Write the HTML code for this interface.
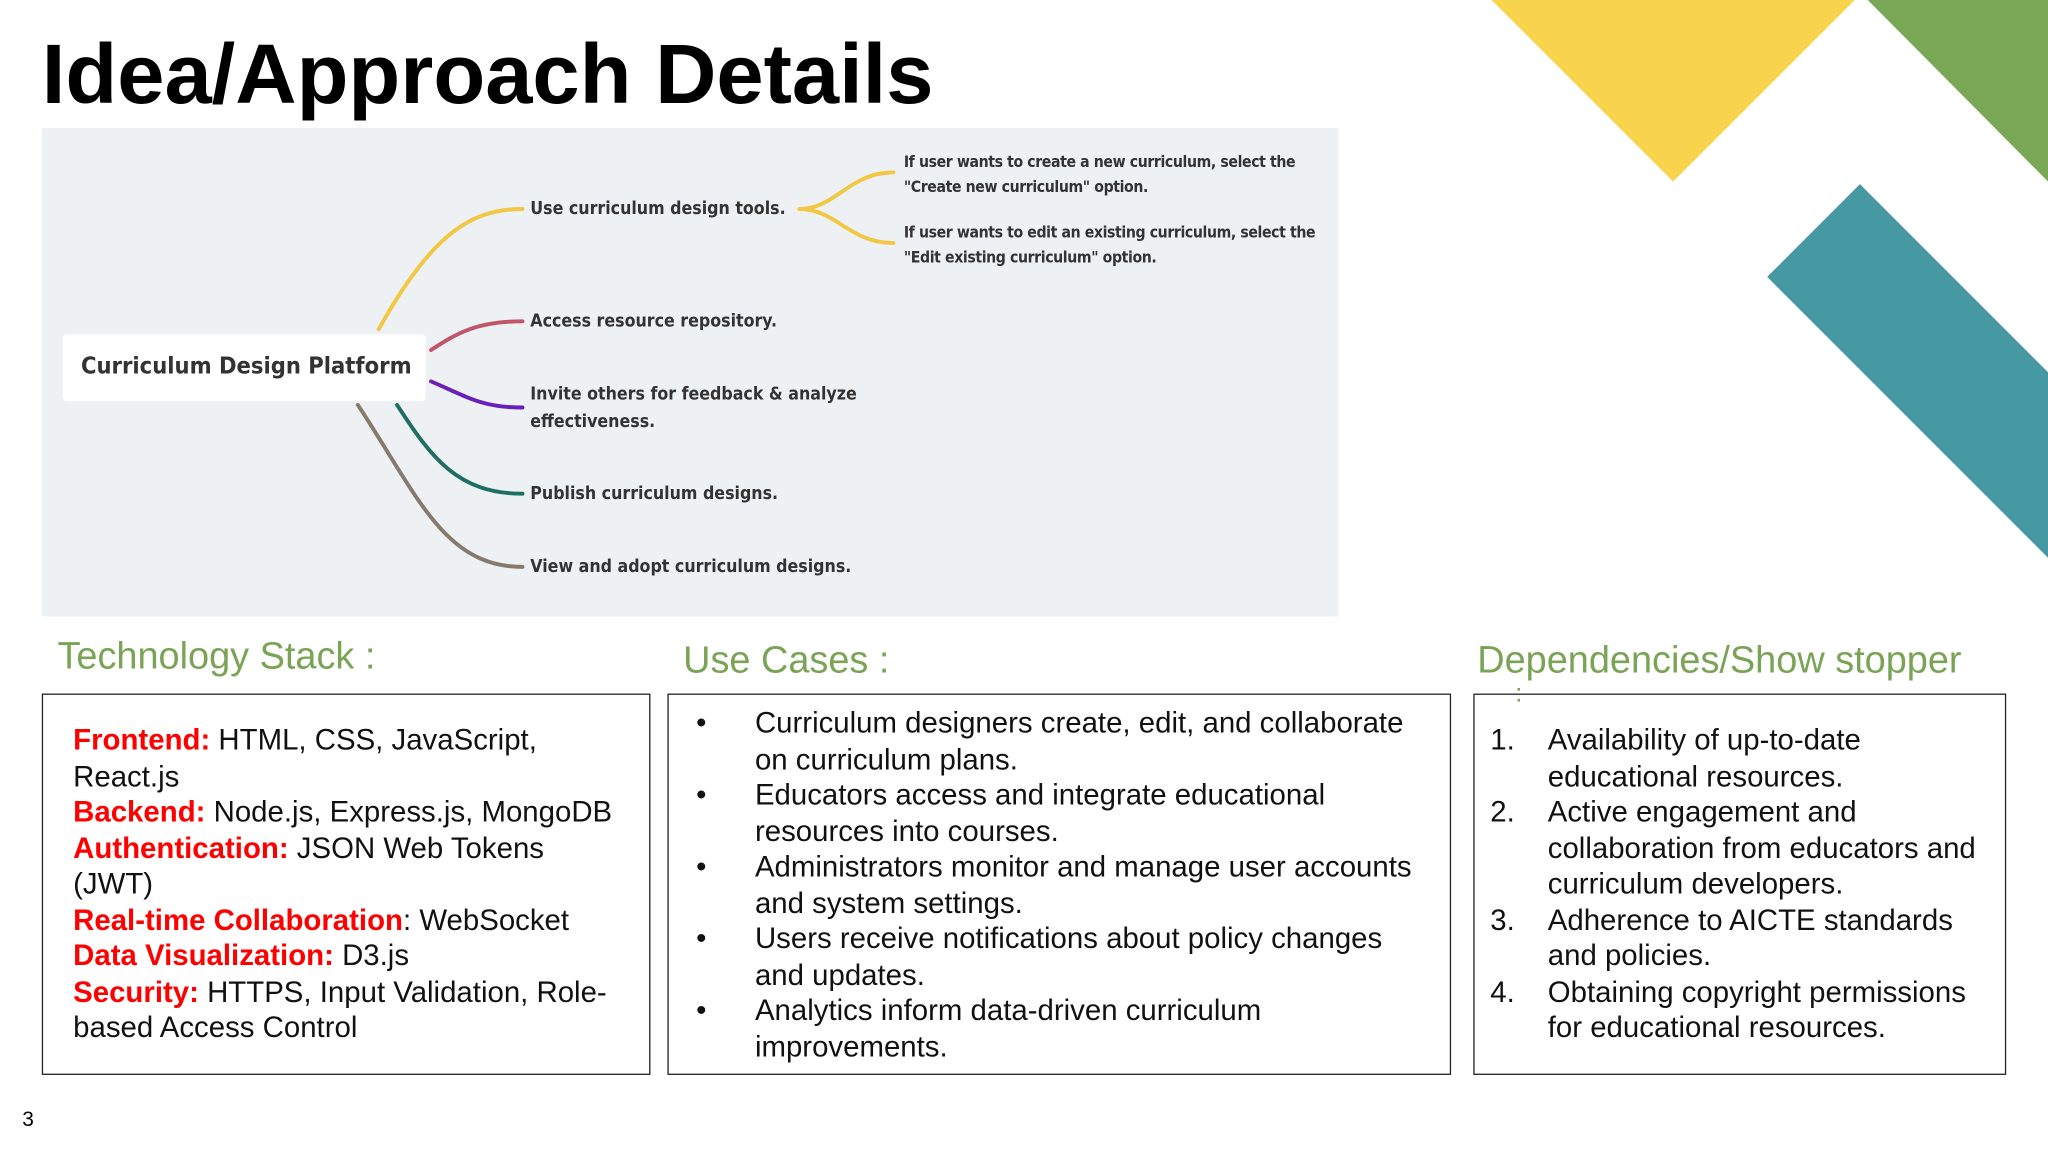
<!DOCTYPE html>
<html><head><meta charset="utf-8"><style>
html,body{margin:0;padding:0;width:2048px;height:1152px;overflow:hidden;background:#fff}
#w{position:absolute;left:0;top:0;width:1568px;height:882px;transform:scale(1.306122);transform-origin:0 0;font-family:"Liberation Sans",Arial,sans-serif}
.a{position:absolute}
.h{color:#7aa356;font-size:29px}
.box{position:absolute;border:1.5px solid #222;box-sizing:border-box;font-size:22.5px;line-height:27.5px;color:#111;white-space:nowrap}
.r{color:#f00;font-weight:bold}
.mm{font-family:"DejaVu Sans Condensed","DejaVu Sans",sans-serif;font-weight:bold;color:#333;font-size:13.5px;position:absolute;white-space:nowrap}
</style></head><body><div id="w">
<svg class="a" style="left:0;top:0" width="1568" height="882">
<polygon points="1142,0 1420,0 1281,139" fill="#f7d44c"/>
<polygon points="1430,0 1568,0 1568,139" fill="#7aa756"/>
<polygon points="1424,141 1568,285 1568,427 1353,212" fill="#4698a3"/>
<rect x="32" y="98" width="993" height="374" fill="#eef1f4"/>
<g fill="none" stroke-width="3" stroke-linecap="round">
<path d="M290,252 C330,180 360,160 400,160" stroke="#f2c744"/>
<path d="M612,160 C640,160 650,132 684,132 M612,160 C640,160 650,186 684,186" stroke="#f2c744"/>
<path d="M330,268 C350,255 365,246 400,246" stroke="#c0566a"/>
<path d="M330,292 C360,305 370,312 400,312" stroke="#6a1fb8"/>
<path d="M304,310 C330,350 350,378 400,378" stroke="#1f6e62"/>
<path d="M274,310 C320,380 340,434 400,434" stroke="#857a6c"/>
</g>
<rect x="48" y="256" width="278" height="51" fill="#fff" rx="3"/>
</svg>
<div class="a" style="left:32px;top:19px;font-size:65px;font-weight:bold;color:#000">Idea/Approach Details</div>
<div class="mm" style="left:62px;top:270px;font-size:18px">Curriculum Design Platform</div>
<div class="mm" style="left:406px;top:152px">Use curriculum design tools.</div>
<div class="mm" style="left:692px;top:115px;font-size:12px;line-height:19px;letter-spacing:-0.3px">If user wants to create a new curriculum, select the<br>"Create new curriculum" option.</div>
<div class="mm" style="left:692px;top:169px;font-size:12px;line-height:19px;letter-spacing:-0.3px">If user wants to edit an existing curriculum, select the<br>"Edit existing curriculum" option.</div>
<div class="mm" style="left:406px;top:238px">Access resource repository.</div>
<div class="mm" style="left:406px;top:292px;line-height:21px">Invite others for feedback &amp; analyze<br>effectiveness.</div>
<div class="mm" style="left:406px;top:370px">Publish curriculum designs.</div>
<div class="mm" style="left:406px;top:426px">View and adopt curriculum designs.</div>
<div class="a h" style="left:44px;top:487px">Technology Stack :</div>
<div class="a h" style="left:523px;top:490px">Use Cases :</div>
<div class="a h" style="left:1131px;top:490px">Dependencies/Show stopper</div>
<div class="a h" style="left:1160px;top:520px;font-size:20px">:</div>
<div class="box" style="left:32px;top:531px;width:466px;height:292px;padding:21px 0 0 23px">
<span class="r">Frontend:</span> HTML, CSS, JavaScript,<br>React.js<br><span class="r">Backend:</span> Node.js, Express.js, MongoDB<br><span class="r">Authentication:</span> JSON Web Tokens<br>(JWT)<br><span class="r">Real-time Collaboration</span>: WebSocket<br><span class="r">Data Visualization:</span> D3.js<br><span class="r">Security:</span> HTTPS, Input Validation, Role-<br>based Access Control</div>
<div class="box" style="left:511px;top:531px;width:600px;height:292px;padding:8px 0 0 66px">
<div style="position:relative"><span style="position:absolute;left:-45px">•</span>Curriculum designers create, edit, and collaborate<br>on curriculum plans.</div>
<div style="position:relative"><span style="position:absolute;left:-45px">•</span>Educators access and integrate educational<br>resources into courses.</div>
<div style="position:relative"><span style="position:absolute;left:-45px">•</span>Administrators monitor and manage user accounts<br>and system settings.</div>
<div style="position:relative"><span style="position:absolute;left:-45px">•</span>Users receive notifications about policy changes<br>and updates.</div>
<div style="position:relative"><span style="position:absolute;left:-45px">•</span>Analytics inform data-driven curriculum<br>improvements.</div>
</div>
<div class="box" style="left:1128px;top:531px;width:408px;height:292px;padding:21px 0 0 56px">
<div style="position:relative"><span style="position:absolute;left:-44px">1.</span>Availability of up-to-date<br>educational resources.</div>
<div style="position:relative"><span style="position:absolute;left:-44px">2.</span>Active engagement and<br>collaboration from educators and<br>curriculum developers.</div>
<div style="position:relative"><span style="position:absolute;left:-44px">3.</span>Adherence to AICTE standards<br>and policies.</div>
<div style="position:relative"><span style="position:absolute;left:-44px">4.</span>Obtaining copyright permissions<br>for educational resources.</div>
</div>
<div class="a" style="left:17px;top:849px;font-size:16px">3</div>
</div></body></html>
